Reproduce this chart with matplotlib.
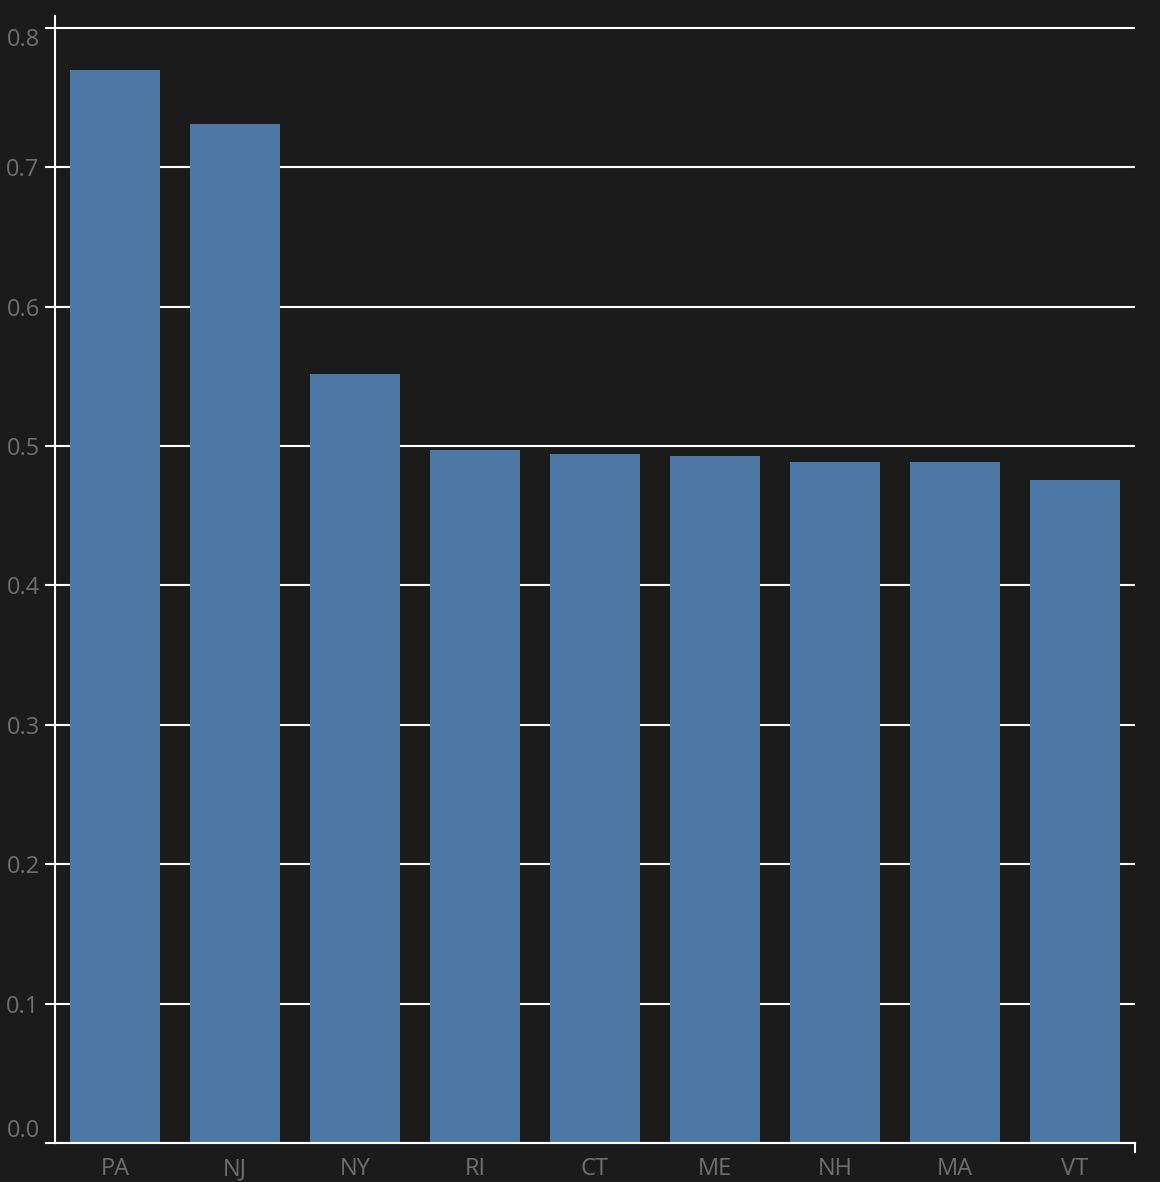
import matplotlib.pyplot as plt

states = ["PA", "NJ", "NY", "RI", "CT", "ME", "NH", "MA", "VT"]
values = [0.770, 0.731, 0.552, 0.497, 0.494, 0.493, 0.4885, 0.4885, 0.4755]
y_ticks = [0.0, 0.1, 0.2, 0.3, 0.4, 0.5, 0.6, 0.7, 0.8]

bg = "#1b1b1b"
bar_color = "#4e79a7"
label_color = "#6f6f6f"

plt.rcParams["font.family"] = ["Open Sans", "DejaVu Sans"]

fig = plt.figure(figsize=(11.6, 11.82), dpi=100, facecolor=bg)
ax = fig.add_axes([55 / 1160, 39 / 1182, 1080 / 1160, 1127 / 1182])
ax.set_facecolor(bg)

x = range(len(states))
ax.bar(x, values, width=0.75, color=bar_color, zorder=3)

ax.set_xlim(-0.5, len(states) - 0.5)
ax.set_ylim(0, 0.8086)
ax.set_yticks(y_ticks)
ax.set_yticklabels([f"{v:.1f}" for v in y_ticks])
ax.set_xticks(list(x))
ax.set_xticklabels(states)

# white horizontal grid
ax.grid(axis="y", color="white", linewidth=1.5, zorder=1)
ax.set_axisbelow(True)

for side in ["top", "right"]:
    ax.spines[side].set_visible(False)
for side in ["left", "bottom"]:
    ax.spines[side].set_color("white")
    ax.spines[side].set_linewidth(1.5)
    ax.spines[side].set_zorder(4)

ax.tick_params(axis="y", colors="white", length=7.5, width=1.5, pad=3.5,
               labelsize=17, labelcolor=label_color)
ax.tick_params(axis="x", length=0, pad=10, labelsize=17, labelcolor=label_color)

# first/last y labels sit flush inside the axis range
ylabels = ax.get_yticklabels()
ylabels[0].set_verticalalignment("bottom")
ylabels[-1].set_verticalalignment("top")

# small outer tick at right end of x domain
ax.plot([1, 1], [0, -0.008], transform=ax.transAxes, color="white",
        linewidth=1.5, clip_on=False)

fig.savefig("out.png", dpi=100, facecolor=bg)
